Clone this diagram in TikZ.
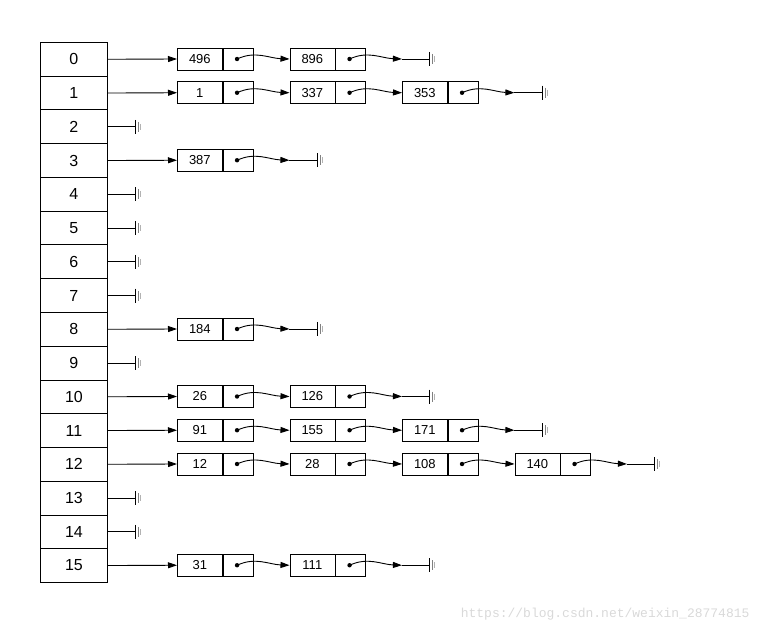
\documentclass[tikz,border=0pt]{standalone}
\usepackage{fontspec}
\setmainfont{Liberation Sans}
\newfontfamily\wmfont{Liberation Mono}
\usetikzlibrary{arrows.meta,positioning}
\begin{document}
\begin{tikzpicture}[x=1pt,y=-1pt,
  cell/.style={draw,line width=0.8pt,minimum width=67pt,minimum height=33.75pt,inner sep=0,font=\fontsize{16}{16}\selectfont,anchor=north west},
  valbox/.style={draw,line width=0.7pt,minimum width=45pt,minimum height=22pt,inner sep=0,font=\fontsize{13}{13}\selectfont,anchor=west},
  ptrbox/.style={draw,line width=0.7pt,minimum width=30pt,minimum height=22pt,inner sep=0,anchor=west},
  link/.style={line width=0.9pt,-{Triangle[length=9pt,width=6pt]}},
  curl/.style={line width=0.9pt,-{Triangle[length=9pt,width=6pt]},out=25,in=178},
  gnd/.pic={\draw[line width=1.1pt] (0,-7)--(0,7); \draw[gray,line width=0.8pt] (2.5,-5)--(2.5,5); \draw[gray!60,line width=0.7pt] (4.5,-3)--(4.5,3);}]
\useasboundingbox (0,0) rectangle (763,636);
\foreach \i in {0,...,15}{\node[cell] (t\i) at (40,{42+33.75*\i}) {\i};}
% empty rows
\foreach \i in {2,4,5,6,7,9,13,14}{
  \coordinate (e\i) at ([xshift=28pt]t\i.east);
  \draw[line width=0.9pt] (t\i.east)--(e\i);
  \pic at (e\i) {gnd};}
% lists
\foreach \r/\vals in {0/{496,896},1/{1,337,353},3/{387},8/{184},10/{26,126},11/{91,155,171},12/{12,28,108,140},15/{31,111}}{
  \foreach \v [count=\k] in \vals {
    \node[valbox] (v\r-\k) at ({177+112.5*(\k-1)},{59+33.75*\r}) {\v};
    \node[ptrbox] (p\r-\k) at (v\r-\k.east) {};
    \fill ([xshift=-1pt]p\r-\k.center) circle (2.2pt);
    \coordinate (d\r-\k) at ([xshift=-1pt]p\r-\k.center);
    \ifnum\k=1 \draw[link] (t\r.east)--(v\r-\k.west);
    \else \pgfmathtruncatemacro{\pk}{\k-1}
      \draw[curl] (d\r-\pk) to (v\r-\k.west);
    \fi
    \xdef\last{\k}
  }
  \coordinate (a\r) at ([xshift=36pt]p\r-\last.east);
  \coordinate (g\r) at ([xshift=64pt]p\r-\last.east);
  \draw[curl] (d\r-\last) to (a\r);
  \draw[line width=0.9pt] (a\r)--(g\r);
  \pic at (g\r) {gnd};
}
\node[text=gray!30,font=\wmfont\fontsize{13}{13}\selectfont,anchor=east] (wm) at (753,614) {https://blog.csdn.net/weixin\_28774815};
\end{tikzpicture}
\end{document}
